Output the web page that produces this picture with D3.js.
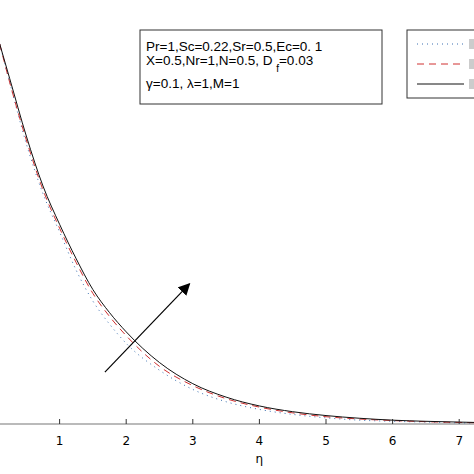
<!DOCTYPE html>
<html><head><meta charset="utf-8">
<script src="https://cdn.jsdelivr.net/npm/d3@7"></script>
<style>body{margin:0;background:#fff}</style>
</head><body>
<div id="chart"></div>
<script>
const eta = [0.1, 0.25, 0.5, 0.75, 1, 1.25, 1.5, 1.75, 2, 2.5, 3, 3.5, 4, 4.5, 5, 5.5, 6, 6.5, 7, 7.5];
const seriesDotted = [0.99, 0.89, 0.73, 0.60, 0.50, 0.40, 0.32, 0.26, 0.21, 0.14, 0.090, 0.058, 0.038, 0.025, 0.016, 0.010, 0.007, 0.005, 0.003, 0.002];
const seriesDashed = [0.99, 0.89, 0.74, 0.61, 0.51, 0.42, 0.34, 0.28, 0.23, 0.15, 0.100, 0.066, 0.044, 0.029, 0.019, 0.013, 0.009, 0.006, 0.004, 0.003];
const seriesSolid  = [0.99, 0.90, 0.75, 0.62, 0.52, 0.43, 0.35, 0.29, 0.24, 0.16, 0.105, 0.070, 0.047, 0.032, 0.022, 0.015, 0.010, 0.007, 0.005, 0.003];
const xTicks = [1, 2, 3, 4, 5, 6, 7];
const arrowPts = [[1.68, 0.135], [2.95, 0.365]];

const W = 474, H = 474;
const svg = d3.select('#chart').append('svg').attr('width', W).attr('height', H);
const x = d3.scaleLinear().domain([0, 7]).range([-7, 459.2]);
const y = d3.scaleLinear().domain([0, 1]).range([424, 40]);

// x axis
svg.append('line').attr('x1', 0).attr('x2', W).attr('y1', 424).attr('y2', 424)
  .attr('stroke', '#777').attr('stroke-width', 1.2);
xTicks.forEach(t => {
  svg.append('line').attr('x1', x(t)).attr('x2', x(t)).attr('y1', 424).attr('y2', 419)
    .attr('stroke', '#333');
  svg.append('text').attr('x', x(t)).attr('y', 445).attr('text-anchor', 'middle')
    .attr('font-family', 'DejaVu Sans').attr('font-size', 12).text(t);
});
svg.append('text').attr('x', x(4)).attr('y', 463).attr('text-anchor', 'middle')
  .attr('font-family', 'DejaVu Sans').attr('font-size', 12).text('η');

const line = vals => d3.line().x((d, i) => x(eta[i])).y(d => y(d)).curve(d3.curveMonotoneX)(vals);
svg.append('path').attr('d', line(seriesDotted)).attr('fill', 'none').attr('stroke', '#3a6fb0')
  .attr('stroke-width', 1).attr('stroke-dasharray', '1,4');
svg.append('path').attr('d', line(seriesDashed)).attr('fill', 'none').attr('stroke', '#d03030')
  .attr('stroke-width', 1).attr('stroke-dasharray', '7,5');
svg.append('path').attr('d', line(seriesSolid)).attr('fill', 'none').attr('stroke', '#111')
  .attr('stroke-width', 1);

// arrow
svg.append('defs').append('marker').attr('id', 'ah').attr('viewBox', '0 0 10 10')
  .attr('refX', 9).attr('refY', 5).attr('markerWidth', 12).attr('markerHeight', 12)
  .attr('markerUnits', 'userSpaceOnUse').attr('orient', 'auto')
  .append('path').attr('d', 'M0,0L10,5L0,10z').attr('fill', '#000');
svg.append('line').attr('x1', x(arrowPts[0][0])).attr('y1', y(arrowPts[0][1]))
  .attr('x2', x(arrowPts[1][0])).attr('y2', y(arrowPts[1][1]))
  .attr('stroke', '#000').attr('stroke-width', 1.2).attr('marker-end', 'url(#ah)');

// parameter box
svg.append('rect').attr('x', 140).attr('y', 30).attr('width', 242).attr('height', 74)
  .attr('fill', '#fff').attr('stroke', '#333');
const tf = 'Liberation Sans';
svg.append('text').attr('x', 146).attr('y', 51).attr('font-family', tf).attr('font-size', 13.5)
  .text('Pr=1,Sc=0.22,Sr=0.5,Ec=0. 1');
const t2 = svg.append('text').attr('x', 146).attr('y', 65).attr('font-family', tf).attr('font-size', 13.5);
t2.append('tspan').text('X=0.5,Nr=1,N=0.5, D ');
t2.append('tspan').attr('dy', 7).attr('font-size', 10).text('f');
t2.append('tspan').attr('dy', -7).text('=0.03');
svg.append('text').attr('x', 146).attr('y', 88).attr('font-family', tf).attr('font-size', 13.5)
  .text('γ=0.1, λ=1,M=1');

// legend (cut off at right)
svg.append('rect').attr('x', 407).attr('y', 30).attr('width', 80).attr('height', 68)
  .attr('fill', '#fff').attr('stroke', '#333');
const leg = [['#3a6fb0', '1,4'], ['#d03030', '7,5'], ['#111', null]];
leg.forEach((l, i) => {
  const yy = 44 + i * 20;
  const ln = svg.append('line').attr('x1', 417).attr('x2', 464).attr('y1', yy).attr('y2', yy)
    .attr('stroke', l[0]);
  if (l[1]) ln.attr('stroke-dasharray', l[1]);
  svg.append('rect').attr('x', 469).attr('y', yy - 5).attr('width', 6).attr('height', 10).attr('fill', '#ccc');
});
</script>
</body></html>
